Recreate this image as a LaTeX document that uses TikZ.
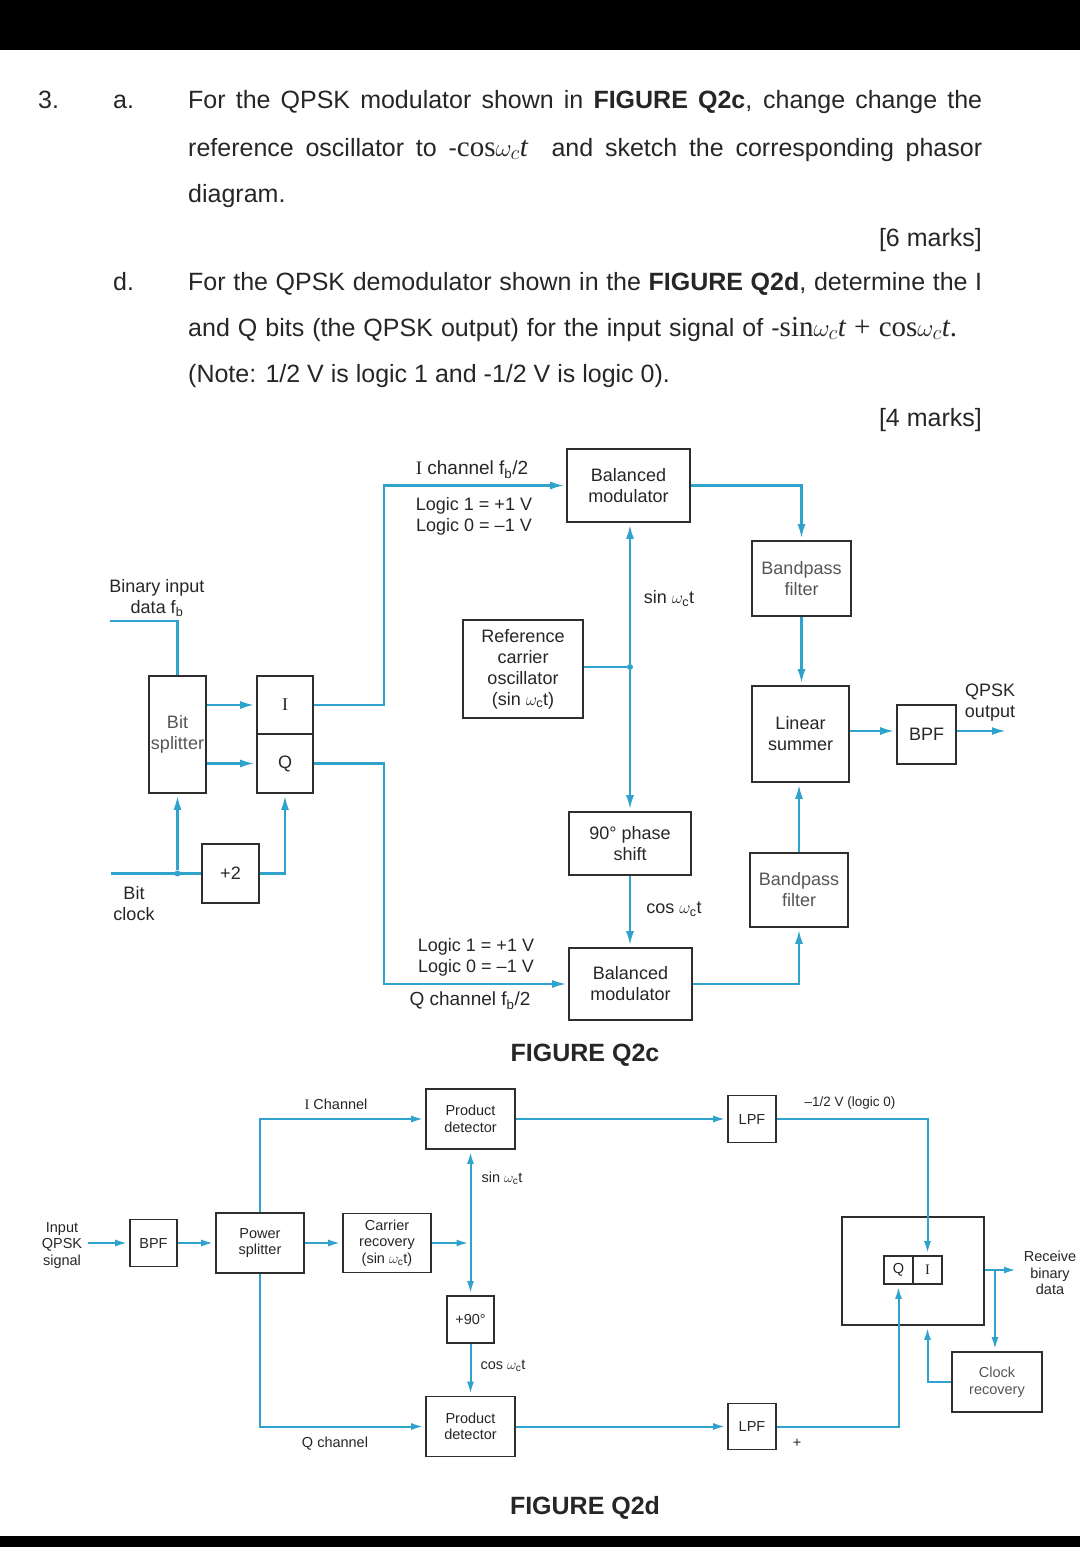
\documentclass[tikz,border=0pt]{standalone}
\usepackage{fontspec}
\setmainfont{Liberation Sans}
\newfontfamily\serifq{Liberation Serif}
\usetikzlibrary{arrows.meta}
\definecolor{wirecol}{HTML}{2FA3CC}
\definecolor{boxcol}{HTML}{2E2E2E}
\definecolor{inkcol}{HTML}{262626}
\definecolor{greyink}{HTML}{555555}
\newcommand{\wct}{$\omega_{\mathrm c}$t}
\newcommand{\eqf}[1]{{\fontsize{29}{30}\selectfont\serifq #1}}
\newcommand{\wctq}{\eqf{\itshape $\omega_c$t}}
\newcommand{\fulline}[1]{\makebox[794pt][s]{#1}}

\begin{document}
\begin{tikzpicture}
[
x=1pt,y=-1pt,
block/.style 2 args={draw=boxcol,line width=1.6pt,minimum width=#1pt,minimum height=#2pt,inner sep=0pt,align=center,text=inkcol,
            font=\fontsize{18}{21}\selectfont},
smallblock/.style 2 args={block={#1}{#2},font=\fontsize{14.5}{16.5}\selectfont},
wire/.style={draw=wirecol,line width=2.2pt,shorten >=2pt,-{Latex[length=14pt,width=8pt]}},
plainwire/.style={draw=wirecol,line width=2.2pt},
thinwire/.style={draw=wirecol,line width=2pt,shorten >=2pt,-{Latex[length=12pt,width=7pt]}},
jdot/.style={fill=wirecol,circle,inner sep=0pt,minimum size=6pt},
lab/.style={align=center,text=inkcol,inner sep=0pt,yshift=-1.5pt,font=\fontsize{18}{21}\selectfont},
smalllab/.style={align=center,text=inkcol,inner sep=0pt,yshift=-1pt,font=\fontsize{14.5}{16.5}\selectfont},
body/.style={anchor=base west,inner sep=0pt,text=inkcol,font=\fontsize{25}{30}\selectfont},
figlab/.style={inner sep=0pt,text=inkcol,font=\fontsize{25}{30}\selectfont\bfseries},
]
\useasboundingbox (0,0) rectangle (1080,1547);

%The page bars
\fill[black] (0,0) rectangle (1080,50);
\fill[black] (0,1536) rectangle (1080,1547);

%The question text
\node[body] (qnum) at (38,108) {3.};
\node[body] (qa) at (113,108) {a.};
\node[body] (la) at (188,108) {\fulline{For the QPSK modulator shown in \textbf{FIGURE Q2c}, change change the}};
\node[body] (lb) at (188,156) {\fulline{reference oscillator to -\eqf{cos}\wctq{} \ and sketch the corresponding phasor}};
\node[body] (lc) at (188,202) {diagram.};
\node[body,anchor=base east] (ma) at (982,246) {[6 marks]};
\node[body] (qd) at (113,290) {d.};
\node[body] (ld) at (188,290) {\fulline{For the QPSK demodulator shown in the \textbf{FIGURE Q2d}, determine the I}};
\node[body] (le) at (188,336) {\makebox[769pt][s]{and Q bits (the QPSK output) for the input signal of -\eqf{sin}\wctq{} \eqf{+ cos}\wctq\eqf{.}}};
\node[body] (lf) at (188,382) {(Note: 1/2 V is logic 1 and -1/2 V is logic 0).};
\node[body,anchor=base east] (mb) at (982,426) {[4 marks]};

%Place the modulator nodes
\node[block={123}{73}] (bal1) at (628.5,485.5) {Balanced\\modulator};
\node[block={123}{72}] (bal2) at (630.5,984) {Balanced\\modulator};
\node[block={122}{63}] (shift) at (630,843.5) {90° phase\\shift};
\node[block={120}{98}] (ref) at (523,669) {Reference\\carrier\\oscillator\\(sin \wct)};
\node[block={99}{75},text=greyink] (bp1) at (801.5,578.5) {Bandpass\\filter};
\node[block={98}{74},text=greyink] (bp2) at (799,890) {Bandpass\\filter};
\node[block={97}{96}] (sum) at (800.5,734) {Linear\\summer};
\node[block={59}{59}] (bpf) at (926.5,734.5) {BPF};
\node[block={57}{117},text=greyink] (split) at (177.5,734.5) {Bit\\splitter};
\node[block={56}{58}] (ibox) at (285,705) {\serifq I};
\node[block={56}{59}] (qbox) at (285,763.5) {Q};
\node[block={57}{59}] (div) at (230.5,873.5) {+2};
\coordinate (datain) at (110,621);
\coordinate (clkin) at (111,873.5);
\coordinate (modout) at (1008,731);
\node[jdot] (clkdot) at (177.5,873.5) {};
\node[jdot] (refdot) at (630,667) {};

%Labels of the modulator
\node[lab] (tin) at (157,596.5) {Binary input\\data f\textsubscript{b}};
\node[lab] (tclk) at (134,902.5) {Bit\\clock};
\node[lab,font=\fontsize{19}{21}\selectfont] (tich) at (472,468) {{\serifq I} channel f\textsubscript{b}/2};
\node[lab] (tilog) at (474,514.5) {Logic 1 = +1 V\\Logic 0 = --1 V};
\node[lab] (tqlog) at (476,955.5) {Logic 1 = +1 V\\Logic 0 = --1 V};
\node[lab,font=\fontsize{19}{21}\selectfont] (tqch) at (470,999) {Q channel f\textsubscript{b}/2};
\node[lab] (tsin) at (669,597) {sin \wct};
\node[lab] (tcos) at (674,908) {cos \wct};
\node[lab] (tout) at (990,701.5) {QPSK\\output};
\node[figlab] (figc) at (585,1055) {FIGURE Q2c};

%Draw the modulator connections
\draw[plainwire] (datain) -| (split.north);
\draw[wire] (split.east |- ibox) -- (ibox.west);
\draw[wire] (split.east |- qbox) -- (qbox.west);
\draw[plainwire] (clkin) -- (div.west);
\draw[wire] (clkdot) -- (split.south);
\draw[wire] (div.east) -| (qbox.south);
\draw[wire] (ibox.east) -- ++(70,0) |- (bal1.west);
\draw[wire] (qbox.east) -- ++(70,0) |- (bal2.west);
\draw[plainwire] (ref.east |- refdot) -- (refdot);
\draw[wire] (refdot) -- (refdot |- bal1.south);
\draw[wire] (refdot) -- (refdot |- shift.north);
\draw[wire] (shift.south) -- (shift.south |- bal2.north);
\draw[wire] (bal1.east) -| (bp1.north);
\draw[wire] (bp1.south) -- (bp1.south |- sum.north);
\draw[wire] (bp2.north) -- (bp2.north |- sum.south);
\draw[wire] (bal2.east) -| (bp2.south);
\draw[wire] (sum.east |- modout) -- (bpf.west |- modout);
\draw[wire] (bpf.east |- modout) -- (modout);

%Place the demodulator nodes
\node[smallblock={47}{47}] (bpfd) at (153.5,1243) {BPF};
\node[smallblock={88}{60}] (pow) at (260,1243) {Power\\splitter};
\node[smallblock={88}{59}] (car) at (387,1243) {Carrier\\recovery\\(sin \wct)};
\node[smallblock={89}{60}] (prod1) at (470.5,1119) {Product\\detector};
\node[smallblock={89}{60}] (prod2) at (470.5,1426.5) {Product\\detector};
\node[smallblock={47}{47}] (plus) at (470.5,1319.5) {+90°};
\node[smallblock={48}{47}] (lpf1) at (752,1119) {LPF};
\node[smallblock={48}{46}] (lpf2) at (752,1426.5) {LPF};
\node[smallblock={142}{108}] (big) at (913,1271) {};
\node[smallblock={29}{28}] (qd2) at (898.5,1270) {Q};
\node[smallblock={29}{28}] (id2) at (927.5,1270) {\serifq I};
\node[smallblock={90}{60},text=greyink] (clock) at (997,1382) {Clock\\recovery};
\coordinate (qpskin) at (88,1243);
\coordinate (carj) at (470.5,1243);
\coordinate (outj) at (995,1270);
\coordinate (outfree) at (1018,1270);

%Labels of the demodulator
\node[smalllab] (tinput) at (62,1244) {Input\\QPSK\\signal};
\node[smalllab] (tichan) at (336,1103) {{\serifq I} Channel};
\node[smalllab] (tqchan) at (335,1443) {Q channel};
\node[smalllab] (tsind) at (502,1177) {sin \wct};
\node[smalllab] (tcosd) at (503,1365) {cos \wct};
\node[smalllab,font=\fontsize{13.5}{15}\selectfont] (tlogic) at (850,1102) {--1/2 V (logic 0)};
\node[smalllab] (trecv) at (1050,1272) {Receive\\binary\\data};
\node[smalllab] (tplus) at (797,1442) {+};
\node[figlab] (figd) at (585,1508) {FIGURE Q2d};

%Draw the demodulator connections
\draw[thinwire] (qpskin) -- (bpfd.west);
\draw[thinwire] (bpfd.east) -- (pow.west);
\draw[thinwire] (pow.east) -- (car.west);
\draw[thinwire] (car.east) -- (carj);
\draw[thinwire] (pow.north) |- (prod1.west);
\draw[thinwire] (pow.south) |- (prod2.west);
\draw[thinwire] (carj) -- (carj |- prod1.south);
\draw[thinwire] (carj) -- (carj |- plus.north);
\draw[thinwire] (plus.south) -- (prod2.north);
\draw[thinwire] (prod1.east) -- (lpf1.west);
\draw[thinwire] (prod2.east) -- (lpf2.west);
\draw[thinwire] (lpf1.east) -| (id2.north);
\draw[thinwire] (lpf2.east) -| (qd2.south);
\draw[thinwire] (big.east |- outj) -- (outfree);
\draw[thinwire] (outj) -- (outj |- clock.north);
\draw[thinwire] (clock.west) -| (id2 |- big.south);
\end{tikzpicture}
\end{document}
